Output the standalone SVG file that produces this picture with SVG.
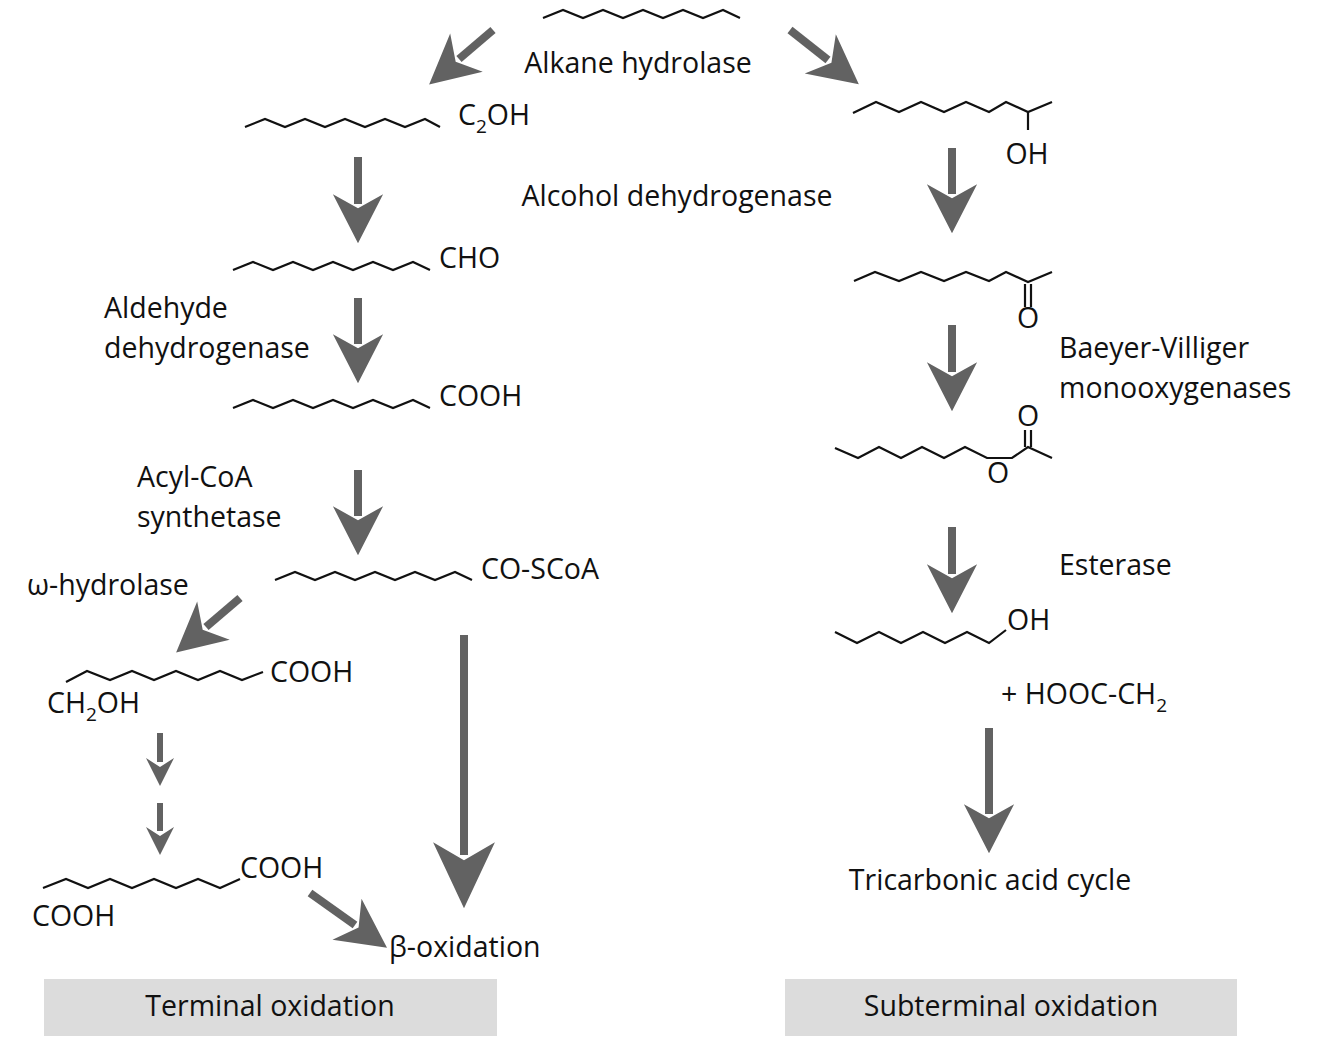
<svg xmlns="http://www.w3.org/2000/svg" width="1340" height="1042" viewBox="0 0 1340 1042">
<style>
text{font-family:"Open Sans","Liberation Sans",sans-serif;font-size:28.5px;fill:#111}
.c{fill:none;stroke:#111;stroke-width:2.2;stroke-linejoin:miter}
.a{stroke:#626262;stroke-width:8;fill:none}
.sa{stroke:#626262;stroke-width:6;fill:none}
.box{fill:#dcdcdc}
.m{text-anchor:middle}
</style>
<defs>
<marker id="big" markerUnits="userSpaceOnUse" markerWidth="60" markerHeight="60" viewBox="-15 -25 55 50" refX="0" refY="0" orient="auto"><path d="M36,0 L-9,-23 L4,0 L-9,23 Z" fill="#626262"/></marker>
<marker id="huge" markerUnits="userSpaceOnUse" markerWidth="80" markerHeight="80" viewBox="-20 -32 75 64" refX="0" refY="0" orient="auto"><path d="M50,0 L-12,-29 L5,0 L-12,29 Z" fill="#626262"/></marker>
<marker id="small" markerUnits="userSpaceOnUse" markerWidth="40" markerHeight="40" viewBox="-12 -16 40 32" refX="0" refY="0" orient="auto"><path d="M24,0 L-4,-14 L5,0 L-4,14 Z" fill="#626262"/></marker>
</defs>
<g id="connectors">
<line class="a" x1="493" y1="30" x2="459" y2="59" marker-end="url(#big)"/>
<line class="a" x1="790" y1="30" x2="828" y2="60" marker-end="url(#big)"/>
<line class="a" x1="358" y1="157" x2="358" y2="204" marker-end="url(#big)"/>
<line class="a" x1="358" y1="298" x2="358" y2="344" marker-end="url(#big)"/>
<line class="a" x1="358" y1="470" x2="358" y2="516" marker-end="url(#big)"/>
<line class="a" x1="952" y1="148" x2="952" y2="194" marker-end="url(#big)"/>
<line class="a" x1="952" y1="325" x2="952" y2="372" marker-end="url(#big)"/>
<line class="a" x1="952" y1="527" x2="952" y2="574" marker-end="url(#big)"/>
<line class="a" x1="989" y1="728" x2="989" y2="814" marker-end="url(#big)"/>
<line class="a" x1="464" y1="635" x2="464" y2="855" marker-end="url(#huge)"/>
<line class="a" x1="240" y1="598" x2="206" y2="627" marker-end="url(#big)"/>
<line class="sa" x1="160" y1="733" x2="160" y2="762" marker-end="url(#small)"/>
<line class="sa" x1="160" y1="803" x2="160" y2="831" marker-end="url(#small)"/>
<line class="a" x1="310" y1="893" x2="355" y2="925" marker-end="url(#big)"/>
</g>
<g id="alkane"><polyline class="c" points="543,18 563,10 583,18 603,10 623,18 643,10 663,18 683,10 703,18 723,10 740,18"/></g>
<text x="638" y="73" class="m">Alkane hydrolase</text>
<g id="c2oh"><polyline class="c" points="245,127 265,119 285,127 305,119 325,127 345,119 365,127 385,119 405,127 425,119 440,127"/><text x="458" y="125">C<tspan font-size="19" dy="8">2</tspan><tspan dy="-8">OH</tspan></text></g>
<text x="677" y="206" class="m">Alcohol dehydrogenase</text>
<g id="cho"><polyline class="c" points="233,270 253,262 273,270 293,262 313,270 333,262 353,270 373,262 393,270 413,262 430,270"/><text x="439" y="268">CHO</text></g>
<text x="104" y="318">Aldehyde</text>
<text x="104" y="358">dehydrogenase</text>
<g id="cooh"><polyline class="c" points="233,408 253,400 273,408 293,400 313,408 333,400 353,408 373,400 393,408 413,400 430,408"/><text x="439" y="406">COOH</text></g>
<text x="137" y="487">Acyl-CoA</text>
<text x="137" y="527">synthetase</text>
<g id="coscoa"><polyline class="c" points="275,580 295,572 315,580 335,572 355,580 375,572 395,580 415,572 435,580 455,572 472,580"/><text x="481" y="579">CO-SCoA</text></g>
<text x="27" y="595">ω-hydrolase</text>
<g id="omega"><polyline class="c" points="66,682 87,671 110,680 132,671 154,680 176,671 198,680 220,671 242,680 263,672"/><text x="270" y="682">COOH</text><text x="47" y="713">CH<tspan font-size="19" dy="8">2</tspan><tspan dy="-8">OH</tspan></text></g>
<g id="diacid"><polyline class="c" points="43,888 66,879 88,888 110,879 132,888 154,879 176,888 198,879 220,888 240,879"/><text x="240" y="878">COOH</text><text x="32" y="926">COOH</text></g>
<text x="389" y="957">β-oxidation</text>
<g id="sec-alcohol"><polyline class="c" points="853,113 876,102 899,112 921,102 944,112 966,102 989,112 1006,102 1028,112 1052,102"/><line class="c" x1="1028" y1="112" x2="1028" y2="130"/><text x="1027" y="164" class="m">OH</text></g>
<g id="ketone"><polyline class="c" points="854,281 875,272 899,281 921,272 944,281 966,272 989,281 1006,272 1028,282 1052,272"/><line class="c" x1="1025" y1="284" x2="1025" y2="307"/><line class="c" x1="1031" y1="284" x2="1031" y2="307"/><text x="1028" y="328" class="m">O</text></g>
<text x="1059" y="358">Baeyer-Villiger</text>
<text x="1059" y="398">monooxygenases</text>
<g id="ester"><polyline class="c" points="835,448 858,458 879,447 901,458 922,447 944,458 965,447 987,458 1012,458 1028,447 1052,458"/><line class="c" x1="1025" y1="447" x2="1025" y2="430"/><line class="c" x1="1031" y1="447" x2="1031" y2="430"/><text x="1028" y="426" class="m">O</text><text x="998" y="483" class="m">O</text></g>
<text x="1059" y="575">Esterase</text>
<g id="alcohol"><polyline class="c" points="835,632 857,643 879,632 901,643 923,632 945,643 967,632 989,643 1006,630"/><text x="1007" y="630">OH</text></g>
<text x="1001" y="704">+ HOOC-CH<tspan font-size="19" dy="8">2</tspan></text>
<text x="990" y="890" class="m">Tricarbonic acid cycle</text>
<g id="terminal"><rect class="box" x="44" y="979" width="453" height="57"/><text x="270" y="1016" class="m">Terminal oxidation</text></g>
<g id="subterminal"><rect class="box" x="785" y="979" width="452" height="57"/><text x="1011" y="1016" class="m">Subterminal oxidation</text></g>
</svg>
